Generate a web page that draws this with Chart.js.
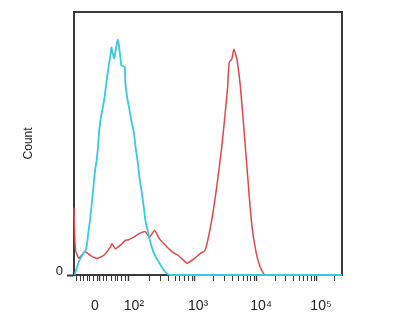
<!DOCTYPE html>
<html><head><meta charset="utf-8">
<script src="https://cdn.jsdelivr.net/npm/chart.js@4"></script>
<style>html,body{margin:0;padding:0;background:#fff;overflow:hidden}</style>
</head><body>
<canvas id="c" width="400" height="318"></canvas>
<script>
// x values are display channels (0-1024) of the biexponential axis
const cyanX = [2,8,15,23,31,38,44,50,55,61,67,73,80,86,92,96,103,109,117,124,133,138,143,147,154,161,168,174,181,187,194,196,203,211,220,228,235,243,252,258,266,273,283,292,304,315,329,340,352,367,500,700,900,1024];
const cyanCount = [0,1.9,4.1,6.0,7.5,8.6,9.4,12.0,16.2,20.7,26.3,32.0,39.5,43.2,48.9,54.5,60.2,63.0,67.7,73.3,79.7,82.7,86.5,84.6,82.3,86.5,89.4,85.4,79.7,79.3,79.1,73.3,67.7,63.2,58.3,54.5,48.9,43.2,35.7,32.0,26.3,20.7,16.2,12.4,8.6,6.4,4.1,2.3,0.8,0,0,0,0,0];
const redX = [0,2,6,18,29,43,62,88,114,139,145,158,177,196,209,228,253,272,288,308,326,349,375,397,425,431,457,483,501,526,545,564,577,587,593,603,611,622,634,647,660,673,682,692,701,711,720,730,850,1024];
const redCount = [25.6,17,9.4,6.4,7.5,8.8,7.5,6.3,7.5,10.6,11.9,10.0,11.3,13.2,13.4,14.4,15.9,16.5,14.4,16.9,13.8,11.3,8.8,7.5,5.0,4.4,6.0,8.2,9.4,20.7,33.2,48.2,60.8,71.4,80.8,82.1,85.8,82.1,73.3,58.3,42.0,25.7,16.9,10.6,6.4,3.1,1.3,0,0,0];

const xTickLabels = ['0','10²','10³','10⁴','10⁵'];
const xLabelPositions = [80,229,474,715,944];
const xMajorTicks = [99,210,462,699,928];
const xMinorTicks = [8,23,38,50,61,73,88,111,126,145,157,168,183,195,287,331,362,386,405,423,438,451,534,576,605,628,647,663,676,689,768,809,837,860,878,893,906,918,997];
const yTickValues = [0];
const yTickLabels = ['0'];
const yTitle = 'Count';

const toPoints = (xs, ys) => xs.map((x, i) => ({x: x, y: ys[i]}));
const allXTicks = [...new Set([...xMinorTicks, ...xMajorTicks, ...xLabelPositions])].sort((a, b) => a - b);
const FONT = "'Liberation Sans', Arial, sans-serif";
const AXIS = '#3a3a3a';

new Chart(document.getElementById('c'), {
  type: 'line',
  data: {
    datasets: [
      {data: toPoints(cyanX, cyanCount), borderColor: 'rgb(55,200,228)', borderWidth: 1.8, pointRadius: 0, tension: 0.2, fill: false, clip: false},
      {data: toPoints(redX, redCount), borderColor: 'rgb(222,72,72)', borderWidth: 1.5, pointRadius: 0, tension: 0.2, fill: false, clip: false}
    ]
  },
  options: {
    responsive: false,
    animation: false,
    events: [],
    layout: {padding: {left: 0, top: 9, right: 58, bottom: 0}},
    plugins: {legend: {display: false}, tooltip: {enabled: false}},
    scales: {
      x: {
        type: 'linear', position: 'bottom', min: 0, max: 1024,
        afterBuildTicks: s => { s.ticks = allXTicks.map(v => ({value: v})); },
        afterFit: s => { s.height = 43; },
        ticks: {
          autoSkip: false, maxRotation: 0, minRotation: 0, padding: 17,
          color: '#222', font: {family: FONT, size: 14},
          callback: v => { const i = xLabelPositions.indexOf(v); return i >= 0 ? xTickLabels[i] : ''; }
        },
        grid: {
          drawOnChartArea: false, drawTicks: true, tickLength: 6,
          tickColor: c => (c.tick && xLabelPositions.includes(c.tick.value)) ? 'rgba(0,0,0,0)' : AXIS,
          tickWidth: c => (c.tick && xMajorTicks.includes(c.tick.value)) ? 1.5 : 1
        },
        border: {display: true, color: AXIS, width: 2}
      },
      y: {
        type: 'linear', position: 'left', min: 0, max: 100,
        afterBuildTicks: s => { s.ticks = yTickValues.map(v => ({value: v})); },
        afterFit: s => { s.width = 74; },
        ticks: {
          padding: 4, labelOffset: -4, color: '#222', font: {family: FONT, size: 13},
          callback: v => { const i = yTickValues.indexOf(v); return i >= 0 ? yTickLabels[i] : ''; }
        },
        grid: {drawOnChartArea: false, drawTicks: true, tickLength: 7, tickColor: AXIS, tickWidth: 2},
        border: {display: true, color: AXIS, width: 2},
        title: {display: true, text: yTitle, color: '#222', font: {family: FONT, size: 12}, padding: {top: 21, bottom: 0}}
      },
      x2: {
        type: 'linear', position: 'top', min: 0, max: 1,
        afterFit: s => { s.height = 0; },
        ticks: {display: false},
        grid: {drawOnChartArea: false, drawTicks: false},
        border: {display: true, color: AXIS, width: 2}
      },
      y2: {
        type: 'linear', position: 'right', min: 0, max: 1,
        afterFit: s => { s.width = 0; },
        ticks: {display: false},
        grid: {drawOnChartArea: false, drawTicks: false},
        border: {display: true, color: AXIS, width: 2}
      }
    }
  }
});
</script>
</body></html>
